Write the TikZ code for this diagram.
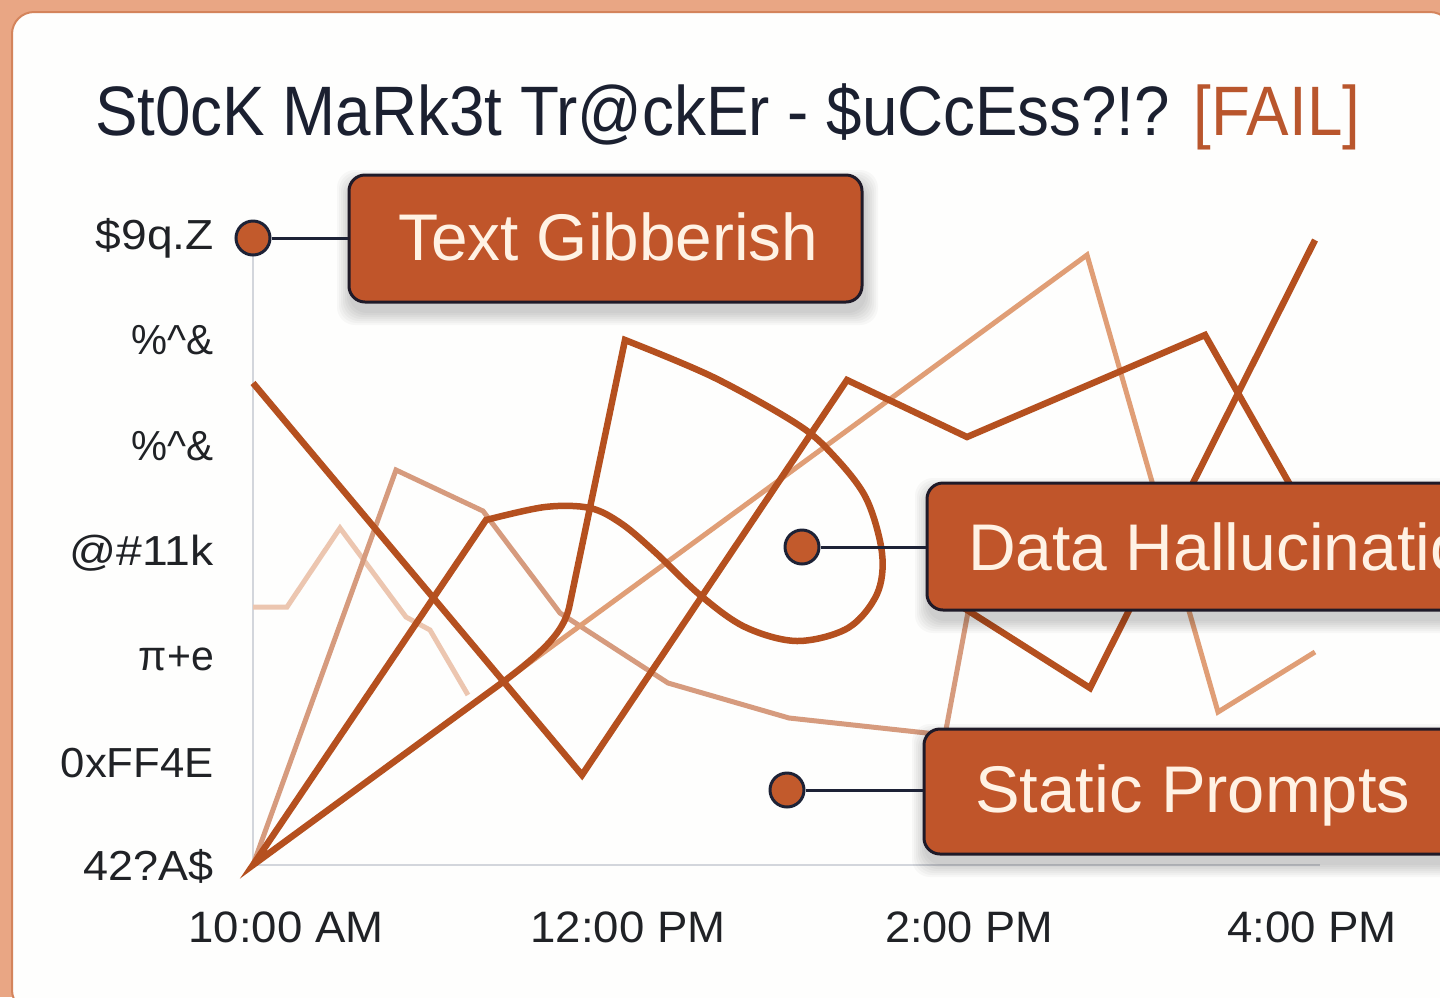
\documentclass[tikz,border=0pt]{standalone}
\usepackage{fontspec}
\setmainfont{Liberation Sans}
\newcommand{\fitw}[2]{\resizebox{#1}{\height}{#2}}
\definecolor{bgpeach}{HTML}{E9A684}
\definecolor{cardedge}{HTML}{D4845C}
\definecolor{cardfill}{HTML}{FEFEFD}
\definecolor{axisc}{HTML}{D3D6DC}
\definecolor{titlec}{HTML}{1B2030}
\definecolor{failc}{HTML}{B9562D}
\definecolor{labc}{HTML}{202226}
\definecolor{lineDark}{HTML}{B5501F}
\definecolor{lineMidA}{HTML}{E09E76}
\definecolor{lineMidB}{HTML}{D69B7E}
\definecolor{linePale}{HTML}{ECC6B0}
\definecolor{boxc}{HTML}{C0552A}
\definecolor{boxedge}{HTML}{1F1A28}
\definecolor{boxtextc}{HTML}{FFF2E4}
\definecolor{dotc}{HTML}{C25A2C}
\definecolor{navyc}{HTML}{1D2236}
\begin{document}
\begin{tikzpicture}[x=1pt,y=-1pt,
  darkline/.style={draw=lineDark,line width=6.5pt},
  midAline/.style={draw=lineMidA,line width=5pt},
  midBline/.style={draw=lineMidB,line width=5pt},
  paleline/.style={draw=linePale,line width=5pt},
  ylab/.style={anchor=base east,inner sep=0pt,text=labc,font=\fontsize{42}{50}\selectfont},
  xlab/.style={anchor=base,inner sep=0pt,text=labc,font=\fontsize{44}{52}\selectfont},
  calloutbox/.style={rectangle,rounded corners=16pt,fill=boxc,draw=boxedge,line width=3pt,inner sep=0pt},
  boxtext/.style={anchor=base west,inner sep=0pt,text=boxtextc,font=\fontsize{66}{78}\selectfont},
  dotmark/.style={circle,minimum size=34pt,inner sep=0pt,fill=dotc,draw=navyc,line width=3pt},
  connector/.style={draw=navyc,line width=3pt}]
\useasboundingbox (0,0) rectangle (1440,997);
\clip (0,0) rectangle (1440,997);
% background and card
\fill[bgpeach] (0,0) rectangle (1440,997);
\draw[fill=cardfill,draw=cardedge,line width=2pt,rounded corners=22pt] (12,12) rectangle (1452,1012);
% axes
\draw[axisc,line width=2pt] (253,240) -- (253,865) -- (1320,865);
% data lines
\draw[paleline] (253,607) -- (287,607) -- (340,528) -- (406,617) -- (430,630) -- (468,695);
\draw[midBline] (253,865) -- (396,470) -- (483,511) -- (560,613) -- (668,683) -- (789,718) -- (945,735) -- (968,612) -- (973,590);
\draw[midAline] (253,865) -- (1087,255) -- (1218,712) -- (1315,652);
\draw[darkline] (253,383) -- (582,775) -- (847,380) -- (967,437) -- (1205,335) -- (1310,520);
\draw[darkline] (1315,240) -- (1090,688) -- (975,615) -- (950,599);
\draw[darkline] (253,865) -- (486,520) -- plot[smooth,tension=0.55] coordinates {(486,520) (545,507) (590,508) (622,524) (656,553) (700,595) (745,627) (797,641) (848,628) (877,594) (882,553) (866,498) (833,455) (797,424) (713,377) (625,340)} -- (569,608) .. controls (563,632) and (545,650) .. (507,679) -- cycle;
% soft shadows
\foreach \e in {1,...,7}{
  \fill[black,opacity=0.028,rounded corners=18pt] ({349-\e*2+2},{175-\e*2+9}) rectangle ({862+\e*2+2},{302+\e*2+9});
  \fill[black,opacity=0.028,rounded corners=18pt] ({927-\e*2+2},{483-\e*2+9}) rectangle ({1520+\e*2},{610+\e*2+9});
  \fill[black,opacity=0.028,rounded corners=18pt] ({924-\e*2+2},{729-\e*2+9}) rectangle ({1520+\e*2},{854+\e*2+9});
}
% callout boxes
\node[calloutbox,minimum width=513pt,minimum height=127pt] (box1) at (605.5,238.5) {};
\node[calloutbox,minimum width=593pt,minimum height=127pt] (box2) at (1223.5,546.5) {};
\node[calloutbox,minimum width=596pt,minimum height=125pt] (box3) at (1222,791.5) {};
\node[boxtext] (t1) at (398,260) {\fitw{420pt}{Text Gibberish}};
\node[boxtext] (t2) at (968,570) {Data Hallucination};
\node[boxtext] (t3) at (975,812) {\fitw{435pt}{Static Prompts}};
% markers and connectors
\node[dotmark] (d1) at (253,238) {};
\node[dotmark] (d2) at (802,547) {};
\node[dotmark] (d3) at (787,790) {};
\draw[connector] (d1.east) -- (d1.east -| box1.west);
\draw[connector] (d2.east) -- (d2.east -| box2.west);
\draw[connector] (d3.east) -- (d3.east -| box3.west);
% axis labels
\node[ylab] (y1) at (214,249) {\fitw{118pt}{\$9q.Z}};
\node[ylab] (y2) at (214,354) {\fitw{82pt}{\%\textasciicircum\&}};
\node[ylab] (y3) at (214,460) {\fitw{82pt}{\%\textasciicircum\&}};
\node[ylab] (y4) at (214,565) {\fitw{144pt}{@\#11k}};
\node[ylab] (y5) at (214,670) {\fitw{75pt}{π+e}};
\node[ylab] (y6) at (214,777) {\fitw{153pt}{0xFF4E}};
\node[ylab] (y7) at (214,880) {\fitw{130pt}{42?A\$}};
\node[xlab] (x1) at (286,942) {\fitw{195pt}{10:00 AM}};
\node[xlab] (x2) at (628,942) {\fitw{195pt}{12:00 PM}};
\node[xlab] (x3) at (969,942) {\fitw{168pt}{2:00 PM}};
\node[xlab] (x4) at (1312,942) {\fitw{170pt}{4:00 PM}};
% title
\node[anchor=base west,inner sep=0pt,text=titlec] (title) at (95,135) {\fitw{1265pt}{\fontsize{70}{84}\selectfont St0cK MaRk3t Tr@ckEr - \$uCcEss?!? \textcolor{failc}{[FAIL]}}};
\end{tikzpicture}
\end{document}
